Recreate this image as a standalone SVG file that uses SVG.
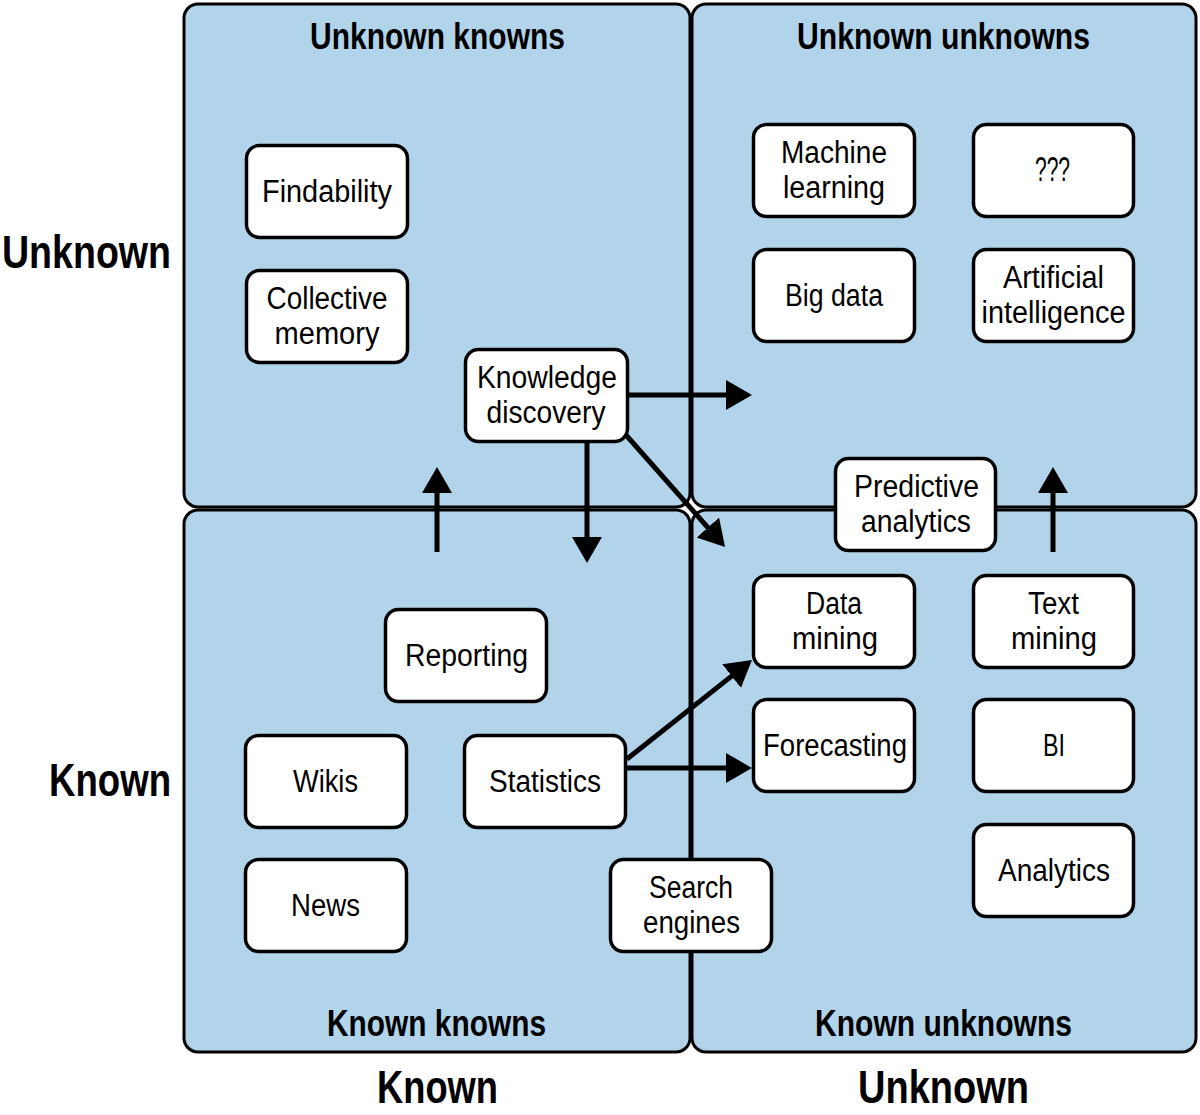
<svg xmlns="http://www.w3.org/2000/svg" width="1200" height="1115" viewBox="0 0 1200 1115">
<style>
.quad{fill:#b2d4ea;stroke:#000;stroke-width:3}
.box{fill:#fff;stroke:#000;stroke-width:3.5}
.t{font-family:"Liberation Sans Narrow","Liberation Sans","DejaVu Sans Condensed",sans-serif;font-size:31px;fill:#000;text-anchor:middle}
.h{font-family:"Liberation Sans Narrow","Liberation Sans","DejaVu Sans Condensed",sans-serif;font-size:36px;font-weight:bold;fill:#000;text-anchor:middle}
.ax{font-family:"Liberation Sans Narrow","Liberation Sans","DejaVu Sans Condensed",sans-serif;font-size:46px;font-weight:bold;fill:#000}
.c{fill:none;stroke:#000;stroke-width:5}
</style>
<defs>
<marker id="ah" markerUnits="userSpaceOnUse" markerWidth="30" markerHeight="32" refX="6" refY="15" orient="auto">
<path d="M0,0 L26,15 L0,30 z" fill="#000"/>
</marker>
</defs>
<rect width="1200" height="1115" fill="#fff"/>
<g id="quadrants">
<rect id="q-unknown-knowns" class="quad" x="184" y="4" width="506" height="503" rx="14"/>
<rect id="q-unknown-unknowns" class="quad" x="692" y="4" width="504" height="503" rx="14"/>
<rect id="q-known-knowns" class="quad" x="184" y="510" width="506" height="542" rx="14"/>
<rect id="q-known-unknowns" class="quad" x="692" y="510" width="504" height="542" rx="14"/>
</g>
<g id="labels">
<text class="h" x="437.5" y="49" textLength="255" lengthAdjust="spacingAndGlyphs">Unknown knowns</text>
<text class="h" x="943.5" y="49" textLength="293" lengthAdjust="spacingAndGlyphs">Unknown unknowns</text>
<text class="h" x="436.5" y="1036" textLength="219" lengthAdjust="spacingAndGlyphs">Known knowns</text>
<text class="h" x="943.5" y="1036" textLength="257" lengthAdjust="spacingAndGlyphs">Known unknowns</text>
<text class="ax" x="2" y="268" textLength="169" lengthAdjust="spacingAndGlyphs">Unknown</text>
<text class="ax" x="49" y="796" textLength="122" lengthAdjust="spacingAndGlyphs">Known</text>
<text class="ax" x="377" y="1103" textLength="121" lengthAdjust="spacingAndGlyphs">Known</text>
<text class="ax" x="858" y="1103" textLength="171" lengthAdjust="spacingAndGlyphs">Unknown</text>
</g>
<g id="connectors">
<path class="c" d="M629,395 L732,395" marker-end="url(#ah)"/>
<path class="c" d="M587,442 L587,543" marker-end="url(#ah)"/>
<path class="c" d="M626,435 L711.8,532" marker-end="url(#ah)"/>
<path class="c" d="M437,552 L437,487" marker-end="url(#ah)"/>
<path class="c" d="M1053,552 L1053,487" marker-end="url(#ah)"/>
<path class="c" d="M627,759 L736.3,672.4" marker-end="url(#ah)"/>
<path class="c" d="M627,768 L732,768" marker-end="url(#ah)"/>
</g>
<g id="n-findability"><rect class="box" x="246.5" y="145.5" width="161" height="92" rx="13"/><text class="t" x="327" y="202" textLength="130" lengthAdjust="spacingAndGlyphs">Findability</text></g>
<g id="n-collective-memory"><rect class="box" x="246.5" y="270.5" width="161" height="92" rx="13"/><text class="t" x="327" y="309" textLength="121" lengthAdjust="spacingAndGlyphs">Collective</text><text class="t" x="327" y="344" textLength="105" lengthAdjust="spacingAndGlyphs">memory</text></g>
<g id="n-knowledge-discovery"><rect class="box" x="465.5" y="349.5" width="162" height="92" rx="13"/><text class="t" x="547" y="388" textLength="140" lengthAdjust="spacingAndGlyphs">Knowledge</text><text class="t" x="546" y="423" textLength="119" lengthAdjust="spacingAndGlyphs">discovery</text></g>
<g id="n-machine-learning"><rect class="box" x="753.5" y="124.5" width="161" height="92" rx="13"/><text class="t" x="834" y="163" textLength="106" lengthAdjust="spacingAndGlyphs">Machine</text><text class="t" x="834" y="198" textLength="102" lengthAdjust="spacingAndGlyphs">learning</text></g>
<g id="n-unknown"><rect class="box" x="973.5" y="124.5" width="160" height="92" rx="13"/><text class="t" x="1052.5" y="181" textLength="35" lengthAdjust="spacingAndGlyphs" style="font-size:35px">???</text></g>
<g id="n-big-data"><rect class="box" x="753.5" y="249.5" width="161" height="92" rx="13"/><text class="t" x="834" y="306" textLength="98" lengthAdjust="spacingAndGlyphs">Big data</text></g>
<g id="n-artificial-intelligence"><rect class="box" x="973.5" y="249.5" width="160" height="92" rx="13"/><text class="t" x="1053.5" y="288" textLength="101" lengthAdjust="spacingAndGlyphs">Artificial</text><text class="t" x="1053.5" y="323" textLength="144" lengthAdjust="spacingAndGlyphs">intelligence</text></g>
<g id="n-predictive-analytics"><rect class="box" x="835.5" y="458.5" width="160" height="92" rx="13"/><text class="t" x="916.5" y="497" textLength="125" lengthAdjust="spacingAndGlyphs">Predictive</text><text class="t" x="916" y="532" textLength="110" lengthAdjust="spacingAndGlyphs">analytics</text></g>
<g id="n-reporting"><rect class="box" x="385.5" y="609.5" width="161" height="92" rx="13"/><text class="t" x="466.5" y="666" textLength="123" lengthAdjust="spacingAndGlyphs">Reporting</text></g>
<g id="n-data-mining"><rect class="box" x="753.5" y="575.5" width="161" height="92" rx="13"/><text class="t" x="834" y="614" textLength="56" lengthAdjust="spacingAndGlyphs">Data</text><text class="t" x="835" y="649" textLength="86" lengthAdjust="spacingAndGlyphs">mining</text></g>
<g id="n-text-mining"><rect class="box" x="973.5" y="575.5" width="160" height="92" rx="13"/><text class="t" x="1053.5" y="614" textLength="51" lengthAdjust="spacingAndGlyphs">Text</text><text class="t" x="1054" y="649" textLength="86" lengthAdjust="spacingAndGlyphs">mining</text></g>
<g id="n-wikis"><rect class="box" x="245.5" y="735.5" width="161" height="92" rx="13"/><text class="t" x="325.5" y="792" textLength="65" lengthAdjust="spacingAndGlyphs">Wikis</text></g>
<g id="n-statistics"><rect class="box" x="464.5" y="735.5" width="161" height="92" rx="13"/><text class="t" x="545" y="792" textLength="112" lengthAdjust="spacingAndGlyphs">Statistics</text></g>
<g id="n-forecasting"><rect class="box" x="753.5" y="699.5" width="161" height="92" rx="13"/><text class="t" x="835" y="756" textLength="144" lengthAdjust="spacingAndGlyphs">Forecasting</text></g>
<g id="n-bi"><rect class="box" x="973.5" y="699.5" width="160" height="92" rx="13"/><text class="t" x="1054" y="756" textLength="22" lengthAdjust="spacingAndGlyphs">BI</text></g>
<g id="n-news"><rect class="box" x="245.5" y="859.5" width="161" height="92" rx="13"/><text class="t" x="325.5" y="916" textLength="69" lengthAdjust="spacingAndGlyphs">News</text></g>
<g id="n-search-engines"><rect class="box" x="610.5" y="859.5" width="161" height="92" rx="13"/><text class="t" x="691" y="898" textLength="84" lengthAdjust="spacingAndGlyphs">Search</text><text class="t" x="691.5" y="933" textLength="97" lengthAdjust="spacingAndGlyphs">engines</text></g>
<g id="n-analytics"><rect class="box" x="973.5" y="824.5" width="160" height="92" rx="13"/><text class="t" x="1054" y="881" textLength="112" lengthAdjust="spacingAndGlyphs">Analytics</text></g>
</svg>
